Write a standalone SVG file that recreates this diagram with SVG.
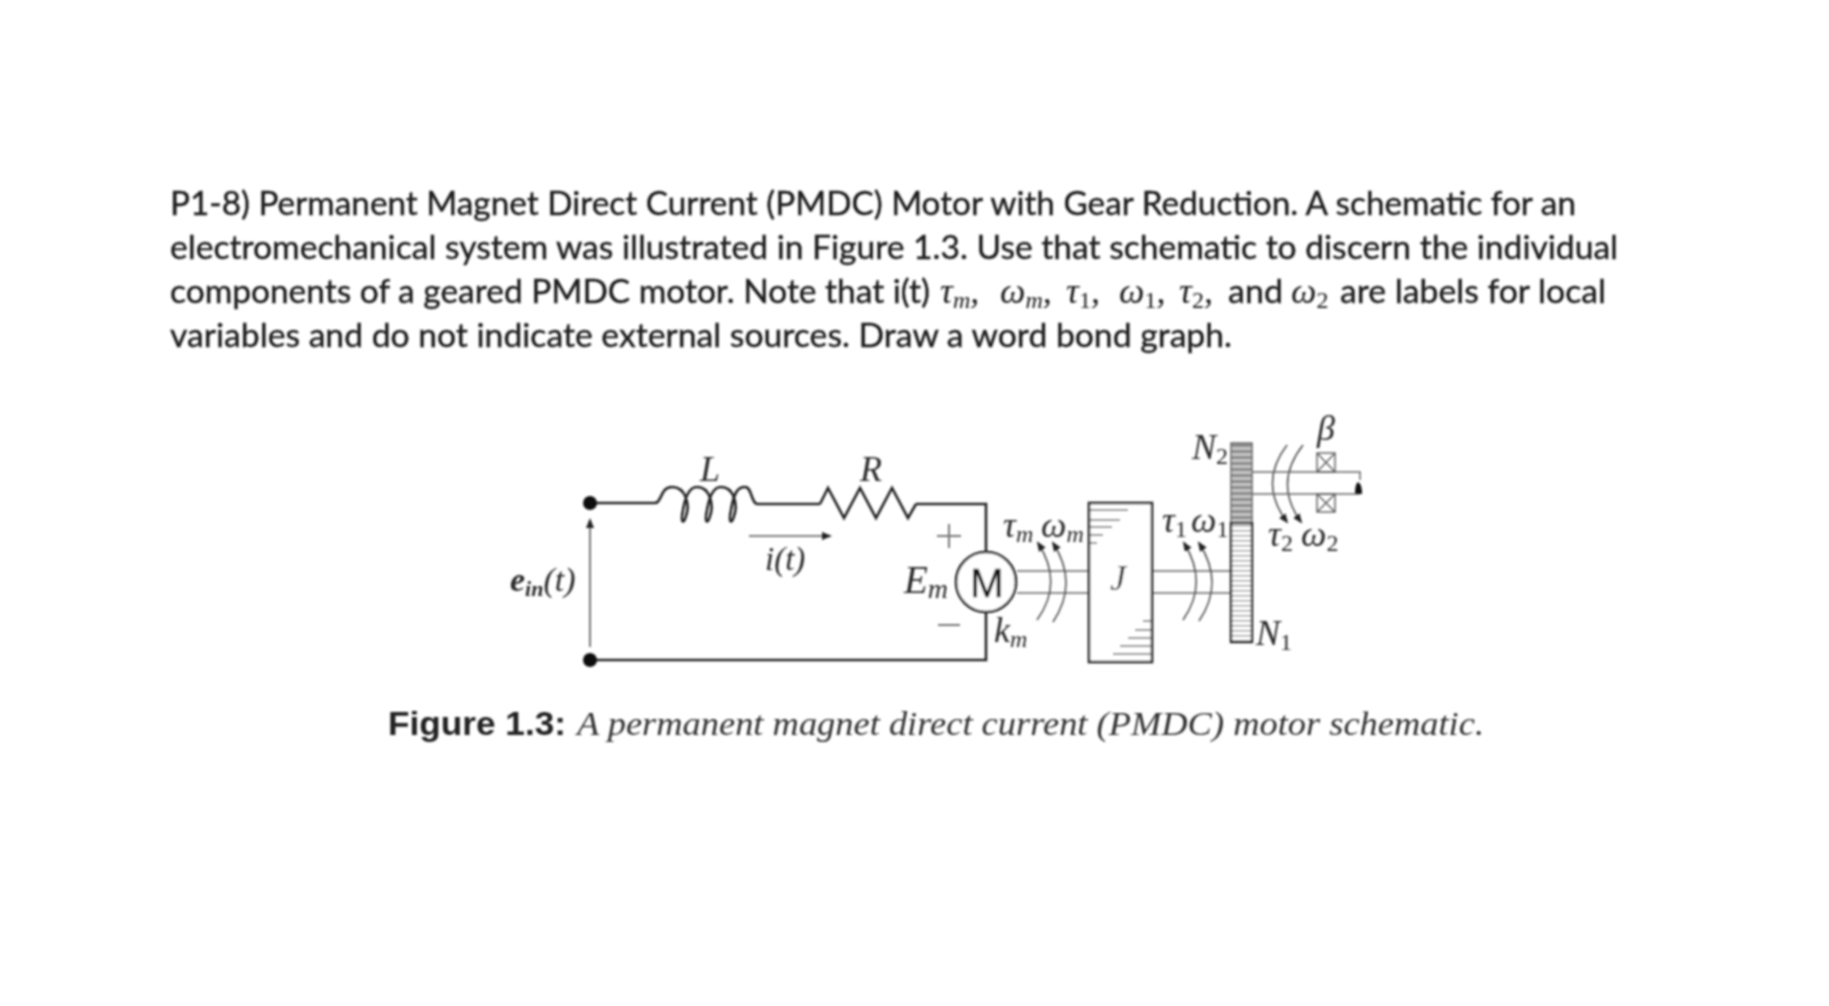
<svg xmlns="http://www.w3.org/2000/svg" width="1829" height="1006" viewBox="0 0 1829 1006">
<style>
.b{font-family:Lato,"Open Sans","Liberation Sans",sans-serif;font-size:32px;fill:#1c1c1c;stroke:#1c1c1c;stroke-width:.35}
.m{font-family:"Liberation Serif",serif;font-style:italic;font-size:36px;fill:#1c1c1c}
.l{font-family:"Liberation Serif",serif;font-style:italic;font-size:36px;fill:#2a2a2a}
.s{font-size:24px}
.n{font-size:24px;font-style:normal}
.w{fill:none;stroke:#222;stroke-width:2.6}
.t{fill:none;stroke:#555;stroke-width:1.6}
.h{fill:none;stroke:#666;stroke-width:1.5}
.c{font-family:"Liberation Serif",serif;font-style:italic;font-size:34px;fill:#333}
</style>
<defs>
<marker id="a" markerWidth="10" markerHeight="8" refX="8" refY="4" orient="auto" markerUnits="userSpaceOnUse"><path d="M0 0L10 4L0 8Z" fill="#222"/></marker>
<pattern id="g1" width="22" height="6" patternUnits="userSpaceOnUse"><rect width="22" height="6" fill="#c4c4c4"/><rect width="22" height="3" fill="#8a8a8a"/></pattern>
<pattern id="g2" width="22" height="5" patternUnits="userSpaceOnUse"><rect width="22" height="5" fill="#fff"/><rect width="22" height="1.4" fill="#999"/></pattern>
<filter id="f" x="-5%" y="-5%" width="110%" height="110%"><feGaussianBlur stdDeviation="0.8"/></filter>
</defs>
<rect width="1829" height="1006" fill="#fff"/>
<g filter="url(#f)">
<g id="problem-text">
<text class="b" x="170" y="215" textLength="1406" lengthAdjust="spacingAndGlyphs">P1-8) Permanent Magnet Direct Current (PMDC) Motor with Gear Reduction. A schematic for an</text>
<text class="b" x="170" y="259" textLength="1448" lengthAdjust="spacingAndGlyphs">electromechanical system was illustrated in Figure 1.3. Use that schematic to discern the individual</text>
<text class="b" x="170" y="303" textLength="760" lengthAdjust="spacingAndGlyphs">components of a geared PMDC motor. Note that i(t)</text>
<text class="m" x="940" y="303">τ<tspan class="s" dy="5">m</tspan><tspan dy="-5">,</tspan></text>
<text class="m" x="1000" y="303">ω<tspan class="s" dy="5">m</tspan><tspan dy="-5">,</tspan></text>
<text class="m" x="1066" y="303">τ<tspan class="n" dy="5">1</tspan><tspan dy="-5">,</tspan></text>
<text class="m" x="1119" y="303">ω<tspan class="n" dy="5">1</tspan><tspan dy="-5">,</tspan></text>
<text class="m" x="1179" y="303">τ<tspan class="n" dy="5">2</tspan><tspan dy="-5">,</tspan></text>
<text class="b" x="1228" y="303" textLength="55" lengthAdjust="spacingAndGlyphs">and</text>
<text class="m" x="1291" y="303">ω<tspan class="n" dy="5">2</tspan></text>
<text class="b" x="1340" y="303" textLength="266" lengthAdjust="spacingAndGlyphs">are labels for local</text>
<text class="b" x="170" y="347" textLength="1062" lengthAdjust="spacingAndGlyphs">variables and do not indicate external sources. Draw a word bond graph.</text>
</g>
<g id="connectors">
<path class="w" d="M590 503H655M757 504H820M916 504H986V552M986 612V660H590"/>
<path class="t" d="M590 647V520" marker-end="url(#a)"/>
<path class="t" d="M749 536H830" marker-end="url(#a)"/>
<path class="h" d="M1017 571H1088M1017 593H1088M1152 571H1231M1152 593H1231"/>
<path class="t" d="M1037 620Q1064 583 1038 543" marker-end="url(#a)"/>
<path class="t" d="M1053 622Q1079 583 1053 543" marker-end="url(#a)"/>
<path class="t" d="M1183 620Q1209 583 1184 543" marker-end="url(#a)"/>
<path class="t" d="M1199 621Q1225 583 1199 543" marker-end="url(#a)"/>
<path class="t" d="M1287 445Q1258 483 1287 522" marker-end="url(#a)"/>
<path class="t" d="M1303 445Q1273 483 1301 522" marker-end="url(#a)"/>
</g>
<g id="source">
<circle cx="590" cy="503" r="7" fill="#111"/>
<circle cx="590" cy="660" r="7" fill="#111"/>
<text class="l" x="510" y="591" style="font-size:34px;font-weight:bold">e<tspan class="s" dy="5" style="font-size:22px">in</tspan><tspan dy="-5" style="font-weight:normal">(t)</tspan></text>
<text class="l" x="765" y="570" style="font-size:33px">i(t)</text>
</g>
<g id="inductor">
<path class="w" d="M655 503C662 503 660 487 672 487C686 487 690 505 686 516C684 524 680 524 683 510C686 492 692 487 697 487C710 487 714 505 710 516C708 524 704 524 707 510C710 492 716 487 721 487C734 487 738 505 734 516C732 524 728 524 731 510C734 492 738 487 745 487C752 487 751 503 757 504" stroke-width="2.2"/>
<text class="l" x="700" y="481">L</text>
</g>
<g id="resistor">
<path class="w" d="M820 504L828 488L844 518L860 488L876 518L892 488L908 518L916 504" stroke-width="2.2"/>
<text class="l" x="860" y="481">R</text>
</g>
<g id="motor">
<circle cx="986" cy="582" r="30" fill="#fff" stroke="#222" stroke-width="2.6"/>
<text x="987" y="597" text-anchor="middle" font-family="'Liberation Sans',sans-serif" font-size="40" fill="#111" stroke="#111" stroke-width=".4">M</text>
<path d="M937 536H961M949 524V548M938 625H960" stroke="#777" stroke-width="2" fill="none"/>
<text class="l" x="904" y="593" style="font-size:39px">E<tspan class="s" dy="5" style="font-size:28px">m</tspan></text>
<text class="l" x="994" y="642">k<tspan class="s" dy="5">m</tspan></text>
<text class="l" x="1003" y="537">τ<tspan class="s" dy="5">m</tspan></text>
<text class="l" x="1041" y="537">ω<tspan class="s" dy="5">m</tspan></text>
</g>
<g id="inertia">
<rect x="1089" y="503" width="63" height="159" fill="#fff" stroke="#222" stroke-width="2.6"/>
<path class="h" d="M1090 510H1128M1090 520H1120M1090 527H1112M1090 535H1103M1090 543H1097M1143 621H1151M1135 630H1151M1128 638H1151M1120 646H1151M1113 654H1151"/>
<text class="l" x="1110" y="590">J</text>
</g>
<g id="gear">
<rect x="1231" y="443" width="21" height="80" fill="url(#g1)" stroke="#666" stroke-width="1.5"/>
<rect x="1231" y="523" width="21" height="119" fill="url(#g2)" stroke="#222" stroke-width="2.4"/>
<text class="l" x="1192" y="459">N<tspan class="n" dy="5">2</tspan></text>
<text class="l" x="1256" y="645">N<tspan class="n" dy="5">1</tspan></text>
<text class="l" x="1162" y="532">τ<tspan class="n" dy="5">1</tspan></text>
<text class="l" x="1191" y="532">ω<tspan class="n" dy="5">1</tspan></text>
</g>
<g id="output-shaft">
<path class="h" d="M1252 472H1360V480M1252 494H1360"/>
<path d="M1355 494Q1355 484 1358 482Q1362 484 1362 494Z" fill="#111"/>
<text class="l" x="1268" y="546">τ<tspan class="n" dy="5">2</tspan></text>
<text class="l" x="1301" y="546">ω<tspan class="n" dy="5">2</tspan></text>
</g>
<g id="bearing">
<path class="h" d="M1317 453H1335V472H1317ZM1317 453L1335 472M1335 453L1317 472M1317 494H1335V512H1317ZM1317 494L1335 512M1335 494L1317 512"/>
<text class="l" x="1317" y="440">β</text>
</g>
<g id="caption">
<text x="388" y="735" font-family="'Liberation Sans',sans-serif" font-weight="bold" font-size="33" fill="#222" textLength="178" lengthAdjust="spacingAndGlyphs">Figure 1.3:</text>
<text class="c" x="577" y="735" textLength="907" lengthAdjust="spacingAndGlyphs">A permanent magnet direct current (PMDC) motor schematic.</text>
</g>
</g>
</svg>
